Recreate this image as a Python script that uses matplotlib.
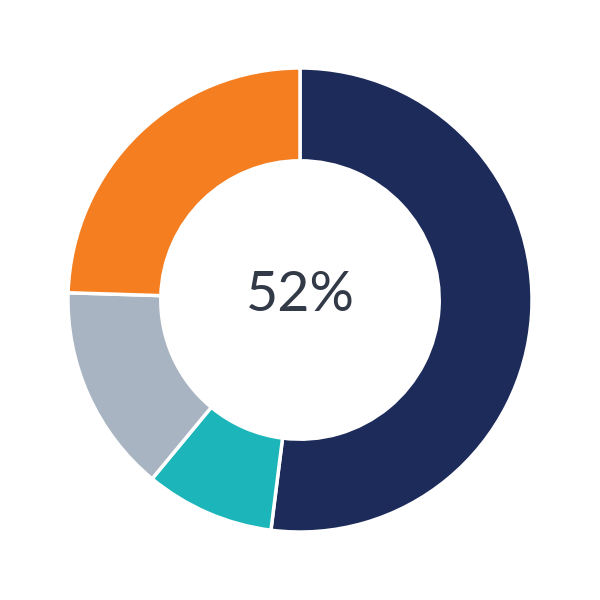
import matplotlib.pyplot as plt

labels = ['Navy', 'Teal', 'Gray', 'Orange']
values = [52, 9, 14.5, 24.5]
colors = ['#1c2b5a', '#1cb5b9', '#a9b4c2', '#f47e20']
center_label = '52%'

fig = plt.figure(figsize=(6, 6), dpi=100)
ax = fig.add_axes([0, 0, 1, 1])
ax.pie(values, colors=colors, startangle=90, counterclock=False,
       radius=1.0,
       wedgeprops=dict(width=0.4, edgecolor='white', linewidth=2.5))
ax.set_xlim(-1.293, 1.293)
ax.set_ylim(-1.293, 1.293)
ax.set_aspect('equal')
ax.axis('off')

ax.text(0, 0.02, center_label, ha='center', va='center', fontsize=40,
        family='Lato', weight='normal', color='#333a47')

fig.savefig('out.png', dpi=100, facecolor='white')
